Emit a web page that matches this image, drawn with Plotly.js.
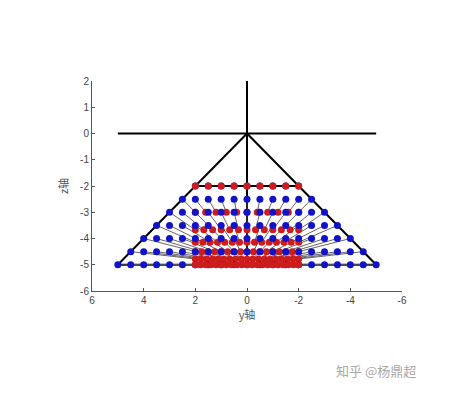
<!DOCTYPE html>
<html>
<head>
<meta charset="utf-8">
<script src="https://cdn.plot.ly/plotly-3.0.1.min.js"></script>
<style>html,body{margin:0;padding:0;background:#fff;}#chart{width:474px;height:401px;}</style>
</head>
<body>
<div id="chart"></div>
<script>
// Blue points: original grid rows (z value and y positions)
const blueZ = [-2, -2.5, -3, -3.5, -4, -4.5, -5];
const blueY = [
  [2, 1.5, 1, 0.5, 0, -0.5, -1, -1.5, -2],
  [2.5, 2, 1.5, 1, 0.5, 0, -0.5, -1, -1.5, -2, -2.5],
  [3, 2.5, 2, 1.5, 1, 0.5, 0, -0.5, -1, -1.5, -2, -2.5, -3],
  [3.5, 3, 2.5, 2, 1.5, 1, 0.5, 0, -0.5, -1, -1.5, -2, -2.5, -3, -3.5],
  [4, 3.5, 3, 2.5, 2, 1.5, 1, 0.5, 0, -0.5, -1, -1.5, -2, -2.5, -3, -3.5, -4],
  [4.5, 4, 3.5, 3, 2.5, 2, 1.5, 1, 0.5, 0, -0.5, -1, -1.5, -2, -2.5, -3, -3.5, -4, -4.5],
  [5, 4.5, 4, 3.5, 3, 2.5, 2, 1.5, 1, 0.5, 0, -0.5, -1, -1.5, -2, -2.5, -3, -3.5, -4, -4.5, -5]
];
// Red points: mapped rows (z value and y positions)
const redZ = [-2, -3, -3.67, -4.14, -4.5, -4.78, -5];
const redY = [
  [2, 1.5, 1, 0.5, 0, -0.5, -1, -1.5, -2],
  [2, 1.6, 1.2, 0.8, 0.4, 0, -0.4, -0.8, -1.2, -1.6, -2],
  [2, 1.67, 1.33, 1, 0.67, 0.33, 0, -0.33, -0.67, -1, -1.33, -1.67, -2],
  [2, 1.71, 1.43, 1.14, 0.86, 0.57, 0.29, 0, -0.29, -0.57, -0.86, -1.14, -1.43, -1.71, -2],
  [2, 1.75, 1.5, 1.25, 1, 0.75, 0.5, 0.25, 0, -0.25, -0.5, -0.75, -1, -1.25, -1.5, -1.75, -2],
  [2, 1.78, 1.56, 1.33, 1.11, 0.89, 0.67, 0.44, 0.22, 0, -0.22, -0.44, -0.67, -0.89, -1.11, -1.33, -1.56, -1.78, -2],
  [2, 1.8, 1.6, 1.4, 1.2, 1, 0.8, 0.6, 0.4, 0.2, 0, -0.2, -0.4, -0.6, -0.8, -1, -1.2, -1.4, -1.6, -1.8, -2]
];
// Thick black frame lines (each a polyline)
const frameY = [
  [5, -5],          // z=0 horizontal
  [0, 0],           // vertical axis
  [5, 0, -5],       // frustum sides
  [5, -5],          // far plane
  [2, -2]           // near plane
];
const frameZ = [
  [0, 0],
  [2, -5],
  [-5, 0, -5],
  [-5, -5],
  [-2, -2]
];
const tickVals = [6, 4, 2, 0, -2, -4, -6];
const zTickVals = [-6, -5, -4, -3, -2, -1, 0, 1, 2];

const BLUE = '#1212c8', RED = '#cc1c1c';
const traces = [];
for (let k = 0; k < frameY.length; k++) {
  traces.push({x: frameY[k], y: frameZ[k], mode: 'lines', line: {color: '#000000', width: 2}, showlegend: false});
}
// thin connection lines blue -> red
const lx = [], lz = [];
for (let i = 0; i < blueZ.length; i++) {
  for (let j = 0; j < blueY[i].length; j++) {
    lx.push(blueY[i][j], redY[i][j], null);
    lz.push(blueZ[i], redZ[i], null);
  }
}
traces.push({x: lx, y: lz, mode: 'lines', line: {color: '#555555', width: 0.9}, hoverinfo: 'skip', showlegend: false});
for (let i = 0; i < blueZ.length; i++) {
  traces.push({x: blueY[i], y: blueY[i].map(() => blueZ[i]), mode: 'markers',
    marker: {color: BLUE, size: 7}, showlegend: false});
  traces.push({x: redY[i], y: redY[i].map(() => redZ[i]), mode: 'markers',
    marker: {color: RED, size: 7}, showlegend: false});
}

const axisFont = {family: 'Liberation Sans, Arial, sans-serif', size: 10, color: '#444444'};
const layout = {
  width: 474, height: 401,
  margin: {l: 92, r: 72, t: 81, b: 110},
  paper_bgcolor: '#ffffff', plot_bgcolor: '#ffffff',
  showlegend: false,
  xaxis: {
    range: [6, -6], tickvals: tickVals, ticktext: tickVals.map(String),
    ticks: 'inside', ticklen: 3, tickcolor: '#555555',
    showline: true, linecolor: '#555555', linewidth: 1, showgrid: false, zeroline: false,
    tickfont: axisFont,
    title: {text: 'y轴', font: {family: 'Noto Sans CJK SC, sans-serif', size: 11, color: '#555555'}, standoff: 4}
  },
  yaxis: {
    range: [-6, 2], tickvals: zTickVals, ticktext: zTickVals.map(String),
    ticks: 'inside', ticklen: 3, tickcolor: '#555555',
    showline: true, linecolor: '#555555', linewidth: 1, showgrid: false, zeroline: false,
    tickfont: axisFont,
    title: {text: 'z轴', font: {family: 'Noto Sans CJK SC, sans-serif', size: 11, color: '#555555'}, standoff: 9}
  },
  annotations: [{
    text: '知乎 @杨鼎超', xref: 'paper', yref: 'paper', x: 1.05, y: -0.433,
    showarrow: false, font: {family: 'Noto Sans CJK SC, sans-serif', size: 13, color: '#a8a8a8'}
  }]
};
Plotly.newPlot('chart', traces, layout, {displayModeBar: false, staticPlot: true});
</script>
</body>
</html>
